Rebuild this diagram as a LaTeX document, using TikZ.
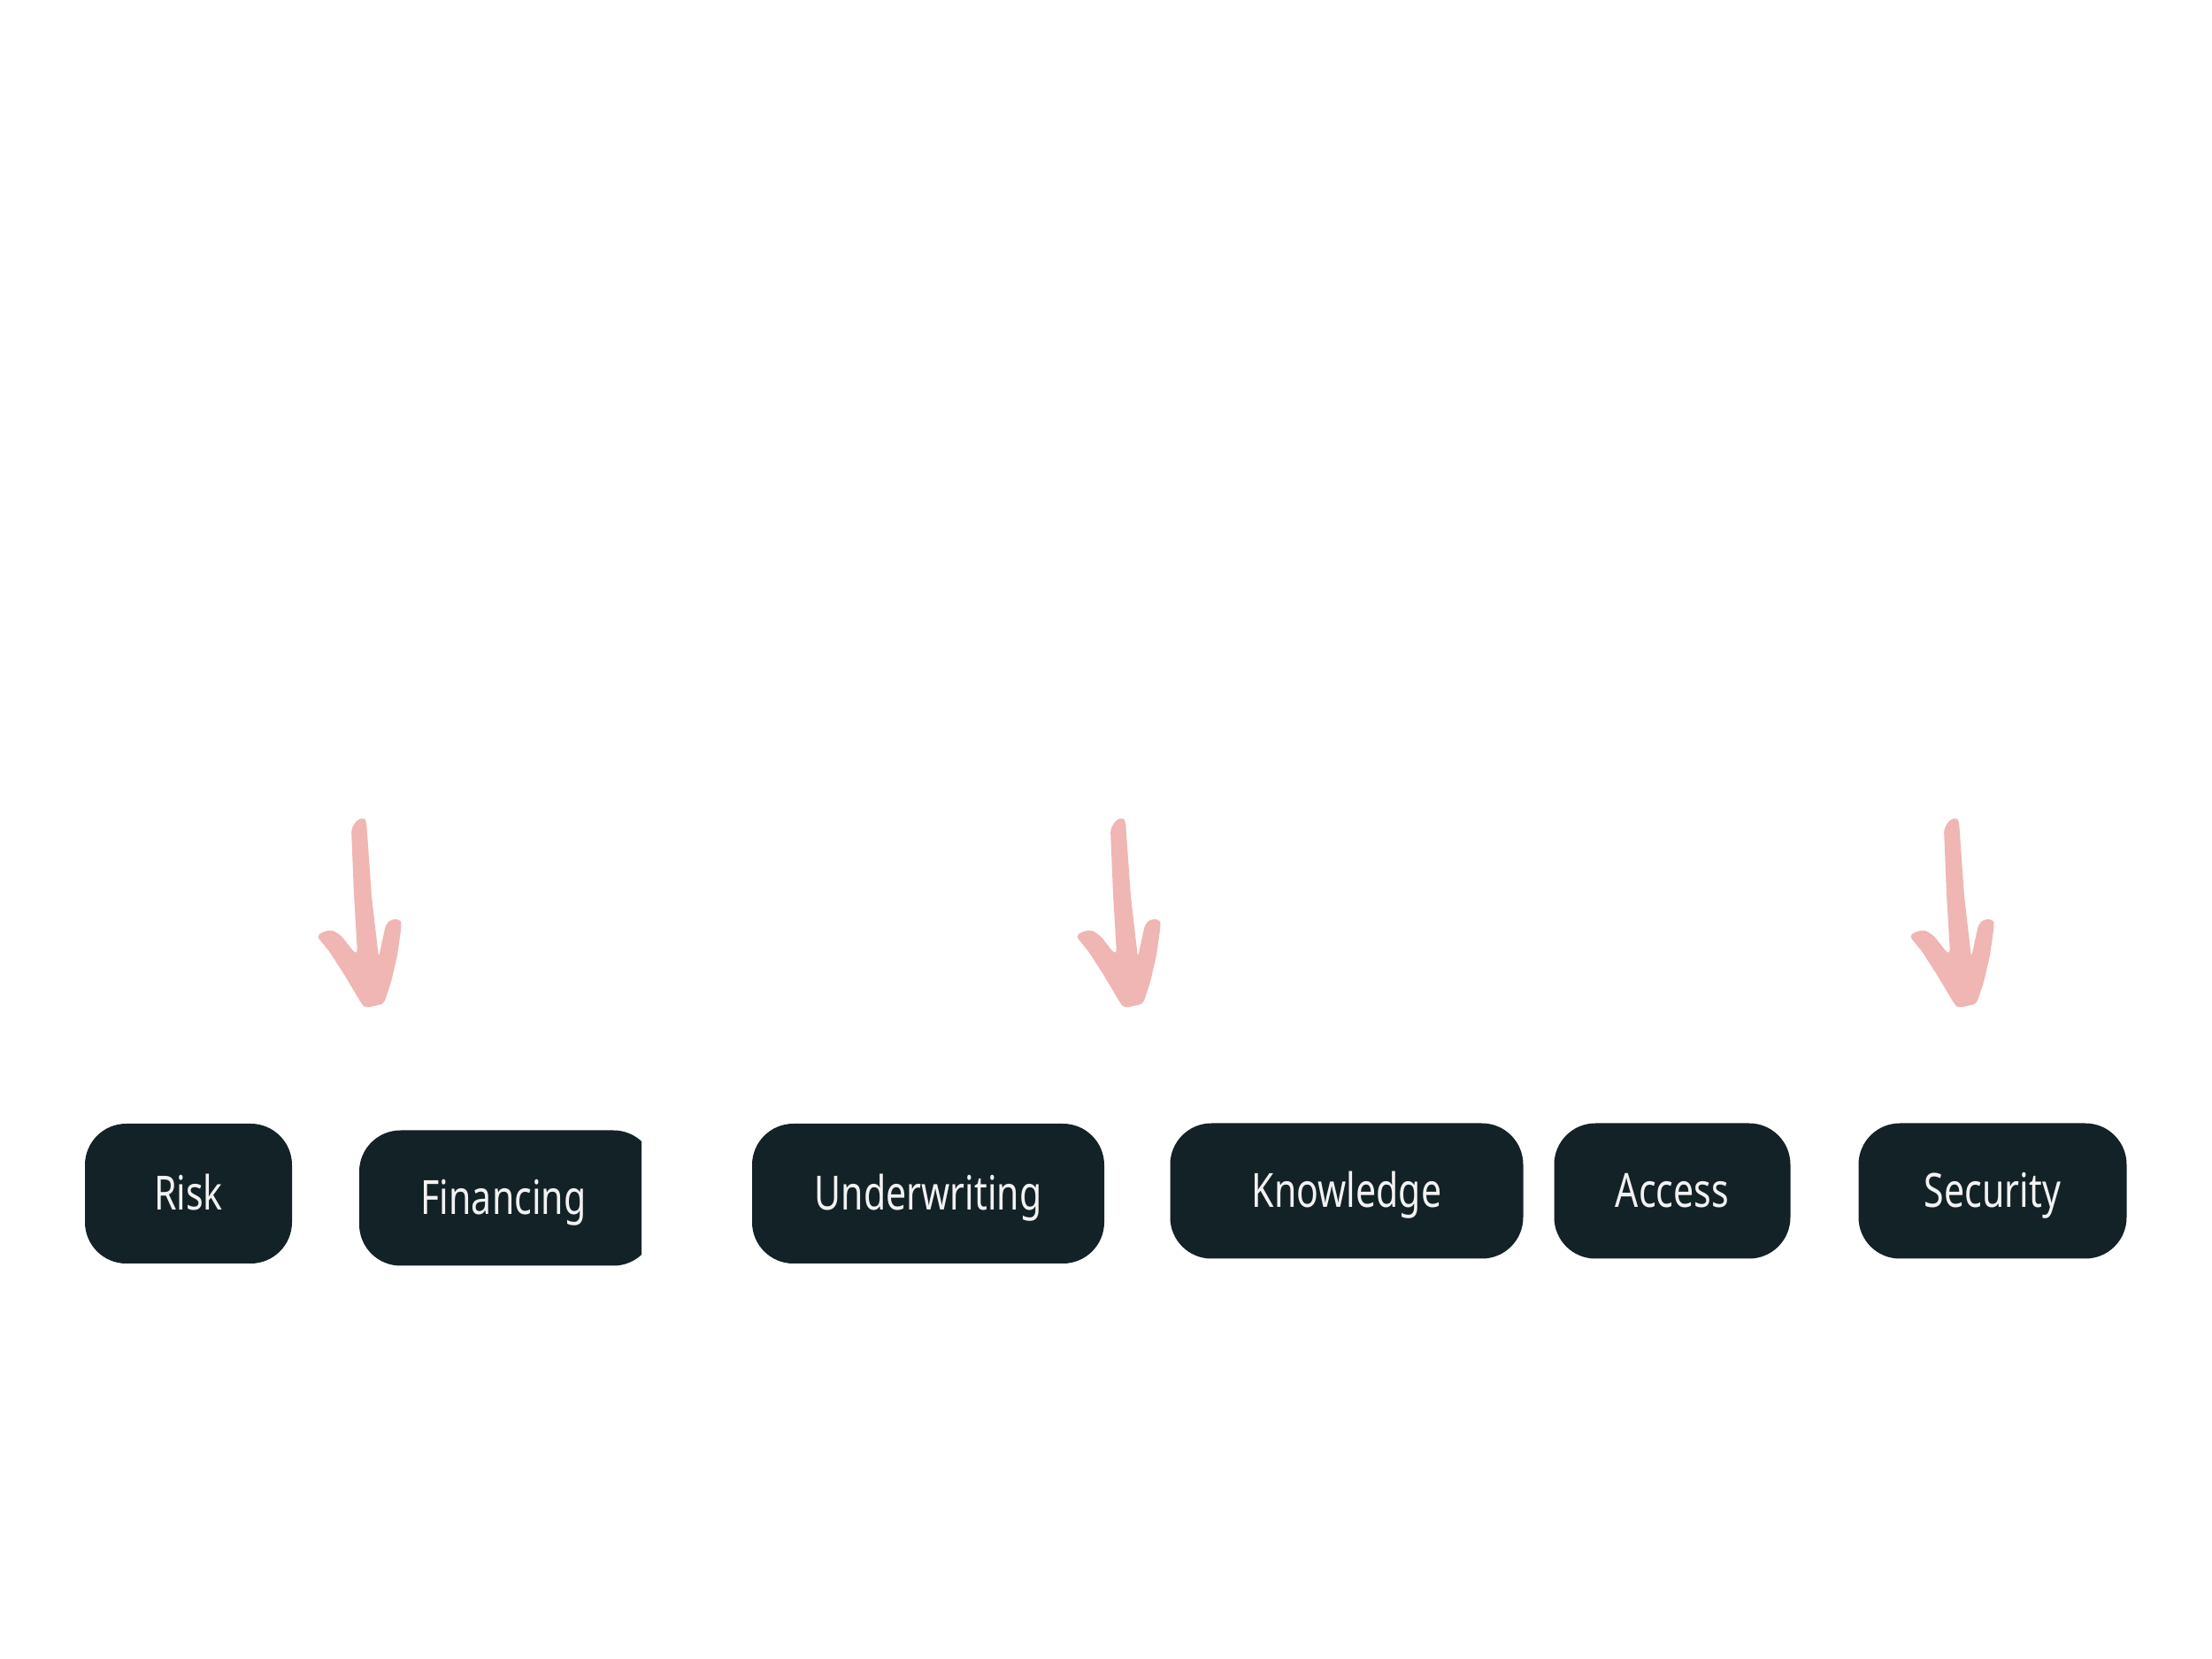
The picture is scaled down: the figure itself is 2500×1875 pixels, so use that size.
\documentclass[tikz,border=0pt]{standalone}
\usepackage{fontspec}
\setmainfont{Noto Sans}[FakeStretch=0.77]
\definecolor{boxcol}{HTML}{132227}
\definecolor{txtcol}{HTML}{F2F2F2}
\definecolor{pinkcol}{HTML}{EFB6B4}
\begin{document}
\begin{tikzpicture}[x=0.3pt,y=-0.3pt,
  tag/.style={rectangle,rounded corners=14pt,fill=boxcol,text=txtcol,
    inner sep=0pt,text height=11.4pt,text depth=0pt,font=\fontsize{16}{19}\selectfont},
  pinkarrow/.pic={\fill[pinkcol,rounded corners=1.2pt]
    (397,937) -- (403,927) -- (411,924) -- (414,928) -- (420,1013) -- (428,1082)
    -- (436,1045) -- (442,1039) -- (452,1039) -- (454,1044) -- (449,1080)
    -- (442,1110) -- (434,1134) -- (428,1136) -- (413,1139) -- (409,1135)
    -- (390,1103) -- (372,1075) -- (358,1058) -- (365,1053) -- (376,1051)
    -- (386,1058) -- (400,1076) -- (404,1078) -- (400,1010) -- cycle;}]
\useasboundingbox (0,0) rectangle (2500,1875);
\fill[white] (0,0) rectangle (2500,1875);
\pic at (0,0) {pinkarrow};
\pic at (858,0) {pinkarrow};
\pic at (1800,0) {pinkarrow};
\node[tag,minimum width=234*0.3pt,minimum height=158*0.3pt] (risk) at (213,1349) {Risk};
\begin{scope}
\clip (380,1250) rectangle (725,1460);
\node[tag,minimum width=334*0.3pt,minimum height=153*0.3pt] (fin) at (573,1354) {\hspace*{-2.4pt}Financing};
\end{scope}
\node[tag,minimum width=398*0.3pt,minimum height=158*0.3pt] (under) at (1049,1349) {Underwriting};
\node[tag,minimum width=399*0.3pt,minimum height=153*0.3pt] (know) at (1522,1346) {Knowledge};
\node[tag,minimum width=267*0.3pt,minimum height=153*0.3pt] (acc) at (1890,1346) {Access};
\node[tag,minimum width=303*0.3pt,minimum height=153*0.3pt] (sec) at (2252,1346) {Security};
\end{tikzpicture}
\end{document}
